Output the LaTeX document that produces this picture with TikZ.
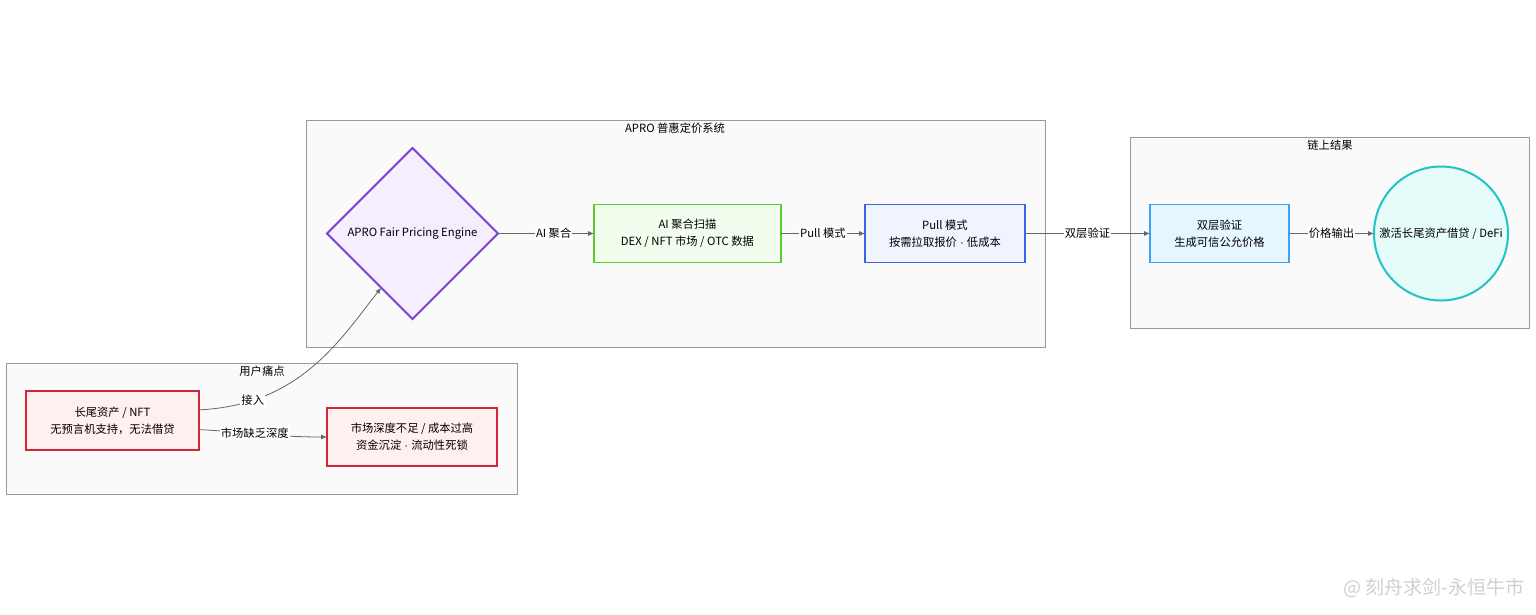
\documentclass[tikz,border=0pt]{standalone}
\usepackage{fontspec}
\setmainfont{Noto Sans CJK SC}
\newfontfamily\dotfont{Liberation Sans}
\usetikzlibrary{arrows.meta,positioning,shapes.geometric}

\definecolor{grpfill}{HTML}{FAFAFA}
\definecolor{grpline}{HTML}{999999}
\definecolor{edge}{HTML}{666666}
\definecolor{engline}{HTML}{7B3FD3}
\definecolor{engfill}{HTML}{F5EEFF}
\definecolor{aggline}{HTML}{5CCB2E}
\definecolor{aggfill}{HTML}{F3FDEE}
\definecolor{pullline}{HTML}{3D64E6}
\definecolor{pullfill}{HTML}{EFF4FF}
\definecolor{verline}{HTML}{3BA3F7}
\definecolor{verfill}{HTML}{E5F6FF}
\definecolor{defiline}{HTML}{22C3C3}
\definecolor{defifill}{HTML}{E6FCFA}
\definecolor{painline}{HTML}{D52339}
\definecolor{painfill}{HTML}{FFF0F0}
\definecolor{wmgray}{HTML}{D0D0D0}

\newcommand{\sepdot}{{\dotfont\ ·\ }}

\begin{document}
\begin{tikzpicture}[x=1pt, y=-1pt,
    font=\fontsize{11.3}{17}\selectfont,
    box/.style={
        draw,
        line width=1.4pt,
        align=center,
        minimum height=58pt,
        inner sep=3pt,
        outer sep=0pt
    },
    grp/.style={
        draw=grpline,
        fill=grpfill,
        line width=0.8pt
    },
    lbl/.style={fill=white, inner sep=1pt},
    flow/.style={->, draw=edge, line width=0.8pt},
    >={Latex[length=6pt,width=5pt]}
]
\fill[white] (0,0) rectangle (1536,614);
\useasboundingbox (0,0) rectangle (1536,614);

% groups
\draw[grp] (306,120) rectangle (1045,347);
\draw[grp] (1130,137) rectangle (1529,328);
\draw[grp] (6,363) rectangle (517,494);
\node (sysTitle) at (675,128) {APRO 普惠定价系统};
\node (chainTitle) at (1330,145) {链上结果};
\node (painTitle) at (262,371) {用户痛点};

% main chain
\node[diamond, draw=engline, fill=engfill, line width=2pt, minimum size=171pt,
      inner sep=0pt, outer sep=0pt, align=center] (engine) at (412.5,233.5) {APRO Fair Pricing Engine};
\node[box, draw=aggline, fill=aggfill, minimum width=187pt, right=96pt of engine] (agg)
    {AI 聚合扫描\\DEX / NFT 市场 / OTC 数据};
\node[box, draw=pullline, fill=pullfill, minimum width=160pt, right=84pt of agg] (pull)
    {Pull 模式\\按需拉取报价\sepdot 低成本};
\node[box, draw=verline, fill=verfill, minimum width=139pt, right=125pt of pull] (verify)
    {双层验证\\生成可信公允价格};
\node[circle, draw=defiline, fill=defifill, line width=2pt, minimum size=134pt,
      inner sep=0pt, outer sep=0pt, right=85pt of verify] (defi) {激活长尾资产借贷 / DeFi};

% pain points
\node[box, draw=painline, fill=painfill, minimum width=173pt, minimum height=59pt] (asset)
    at (112.5,420.5) {长尾资产 / NFT\\无预言机支持，无法借贷};
\node[box, draw=painline, fill=painfill, minimum width=170pt] (depth)
    at (412,437) {市场深度不足 / 成本过高\\资金沉淀\sepdot 流动性死锁};

\draw[flow] (engine) -- node[lbl, pos=0.58] {AI 聚合} (agg);
\draw[flow] (agg) -- node[lbl] {Pull 模式} (pull);
\draw[flow] (pull) -- node[lbl] {双层验证} (verify);
\draw[flow] (verify) -- node[lbl] {价格输出} (defi);
\draw[flow] (asset.7.6) .. controls (300,405) and (340,340) .. node[lbl, pos=0.2] {接入} (engine.240);
\draw[flow] (asset.-6) to[out=-3, in=180] node[lbl, pos=0.43] {市场缺乏深度} (depth.west);

\node[text=wmgray, font=\fontsize{19}{19}\selectfont, anchor=east] (mark) at (1528,588) {@ 刻舟求剑-永恒牛市};
\end{tikzpicture}
\end{document}
